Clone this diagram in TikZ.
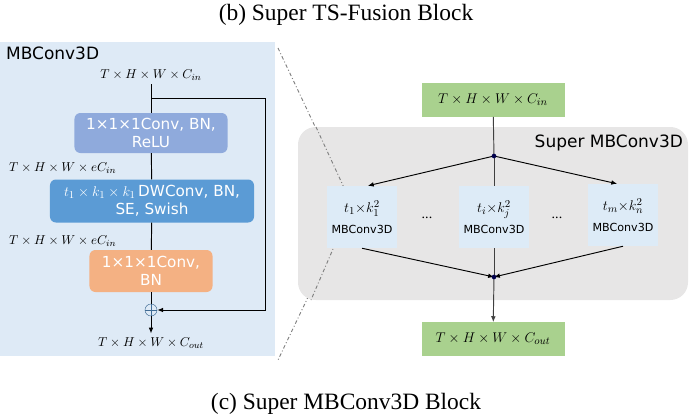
\documentclass[tikz,border=0pt]{standalone}
\usepackage{amsmath}
\usepackage{fontspec}
\setmainfont{Liberation Serif}
\setsansfont{DejaVu Sans}
\usepackage{xcolor}
\usetikzlibrary{arrows.meta}
\definecolor{panelblue}{HTML}{DEEAF6}
\definecolor{convone}{HTML}{8FAADC}
\definecolor{dwconv}{HTML}{5B9BD5}
\definecolor{convtwo}{HTML}{F4B183}
\definecolor{supergrey}{HTML}{E7E6E6}
\definecolor{tensorgreen}{HTML}{A9D18E}
\definecolor{cellblue}{HTML}{DDEBF7}
\newcommand{\cellname}{\sffamily\fontsize{9.5}{11}\selectfont MBConv3D}
\tikzset{
  layer/.style={rounded corners=5pt, text=white, align=center, inner sep=0pt,
    font=\sffamily\fontsize{13}{15.5}\selectfont},
  tensor/.style={fill=tensorgreen, minimum width=4.29cm, minimum height=1.0cm, inner sep=0pt,
    font=\fontsize{13}{15}\selectfont},
  cell/.style={fill=cellblue, minimum width=2.1cm, minimum height=1.86cm, align=center, inner sep=0pt,
    font=\fontsize{12.5}{14}\selectfont},
  dim/.style={font=\fontsize{11}{12}\selectfont},
  flow/.style={-{Latex[length=5pt,width=4pt]}, thick},
}
\begin{document}
\begin{tikzpicture}[x=0.03cm, y=-0.03cm]
\useasboundingbox (0,0) rectangle (693,420);
% captions
\node (capb) at (346,15) {\fontsize{20}{22}\selectfont (b) Super TS-Fusion Block};
\node (capc) at (346,404) {\fontsize{20}{22}\selectfont (c) Super MBConv3D Block};

% left panel: MBConv3D
\fill[panelblue] (0,42) rectangle (275,356);
\node[anchor=west, font=\sffamily\fontsize{14.5}{16}\selectfont] (mbtitle) at (2,53) {MBConv3D};
\node[dim] (din) at (151,75) {$T\times H\times W\times C_{in}$};
\coordinate (skip) at (151,98);
\node[layer, fill=convone, minimum width=4.59cm, minimum height=1.2cm] (c1) at (151,133) {1×1×1Conv, BN,\\ReLU};
\node[dim, anchor=west] (d1) at (5,168) {$T\times H\times W\times eC_{in}$};
\node[layer, fill=dwconv, minimum width=6.12cm, minimum height=1.29cm] (dw) at (152,201) {$t_1\times k_1\times k_1$\,DWConv, BN,\\SE, Swish};
\node[dim, anchor=west] (d2) at (5,241) {$T\times H\times W\times eC_{in}$};
\node[layer, fill=convtwo, minimum width=3.69cm, minimum height=1.26cm] (c2) at (151,271) {1×1×1Conv,\\BN};
\node[draw=dwconv!70!black, circle, inner sep=0pt, minimum size=0.36cm] (add) at (151,310) {};
\draw[dwconv!70!black] (add.north) -- (add.south) (add.west) -- (add.east);
\node[dim] (dout) at (151,343) {$T\times H\times W\times C_{out}$};
\draw[thick] (din) -- (c1);
\draw[thick] (c1) -- (dw);
\draw[thick] (dw) -- (c2);
\draw[thick] (c2) -- (add);
\draw[flow] (add) -- (dout);
\draw[flow] (skip) -| (265,310) -- (add);

% zoom lines
\draw[gray, thick, dash dot] (278,48) -- (352,205) -- (278,360);

% right panel: Super MBConv3D
\fill[supergrey, rounded corners=15pt] (298,127) rectangle (688,300);
\draw[gray, thick, dash dot] (316,127) -- (352,205) -- (311,300);
\node[anchor=east, font=\sffamily\fontsize{14.5}{16}\selectfont] (sptitle) at (687,143) {Super MBConv3D};
\node[tensor] (tin) at (493,100) {$T\times H\times W\times C_{in}$};
\node[tensor] (tout) at (493,339) {$T\times H\times W\times C_{out}$};
\coordinate (split) at (494,156);
\coordinate (merge) at (494,277);
\node[cell] (b1) at (362,217) {$t_1{\times}k_1^2$\\[4pt]{\cellname}};
\node[cell] (bi) at (494,217) {$t_i{\times}k_j^2$\\[4pt]{\cellname}};
\node[cell] (bm) at (623,215) {$t_m{\times}k_n^2$\\[4pt]{\cellname}};
\node[font=\large] (dots1) at (427,218) {...};
\node[font=\large] (dots2) at (557,218) {...};
\draw[thick, black!75] (tin) -- (split);
\draw[thick, black!75] (split) -- (bi);
\draw[thick, black!75] (bi) -- (merge);
\draw[flow, black!75] (merge) -- (tout);
\draw[flow] (split) -- ([xshift=5pt]b1.north);
\draw[flow] (split) -- ([xshift=-5pt]bm.north);
\draw[flow] (b1.south) -- (merge);
\draw[flow] (bm.south) -- (merge);
\fill[black!70!blue] (split) circle (2pt) (merge) circle (2pt);
\end{tikzpicture}
\end{document}
